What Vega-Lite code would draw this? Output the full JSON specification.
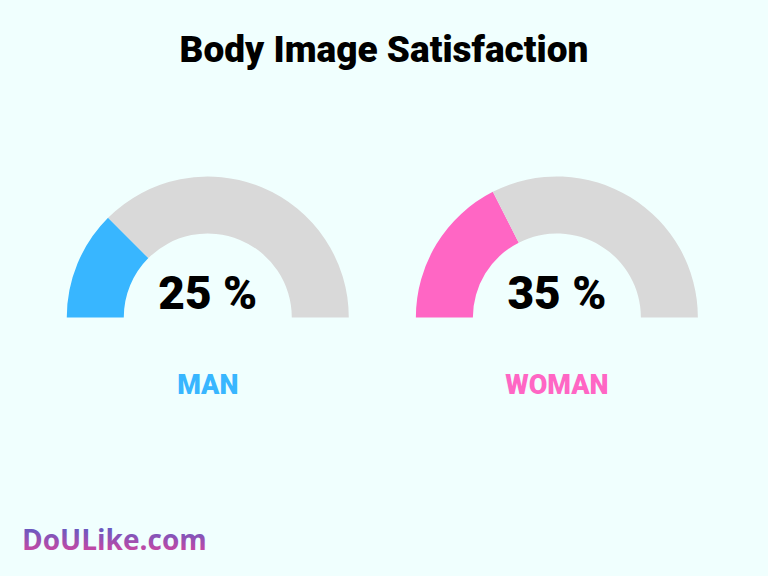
{
  "$schema": "https://vega.github.io/schema/vega-lite/v6.json",
  "width": 768,
  "height": 576,
  "autosize": {"type": "fit", "contains": "padding"},
  "padding": {"top": 32, "left": 0, "right": 0, "bottom": 0},
  "background": "#F0FFFE",
  "title": {
    "text": "Body Image Satisfaction",
    "anchor": "middle",
    "font": "Roboto",
    "fontWeight": 900,
    "fontSize": 37,
    "color": "#000000",
    "offset": -11
  },
  "datasets": {
    "arcs": [
      {"gauge": "MAN", "part": "MAN", "start": 0, "end": 25},
      {"gauge": "MAN", "part": "rest", "start": 25, "end": 100},
      {"gauge": "WOMAN", "part": "WOMAN", "start": 0, "end": 35},
      {"gauge": "WOMAN", "part": "rest", "start": 35, "end": 100}
    ],
    "labels": [
      {"gauge": "MAN", "pct": "25 %"},
      {"gauge": "WOMAN", "pct": "35 %"}
    ]
  },
  "encoding": {
    "x": {
      "field": "gauge",
      "type": "nominal",
      "scale": {"type": "point", "domain": ["MAN", "WOMAN"], "padding": 0.6, "align": 0.496},
      "axis": null
    }
  },
  "layer": [
    {
      "data": {"name": "arcs"},
      "mark": {"type": "arc", "outerRadius": 141, "innerRadius": 84, "stroke": null},
      "encoding": {
        "theta": {"field": "start", "type": "quantitative", "scale": {"domain": [0, 100], "range": [-1.5707963, 1.5707963]}},
        "theta2": {"field": "end"},
        "color": {
          "field": "part",
          "type": "nominal",
          "scale": {"domain": ["MAN", "WOMAN", "rest"], "range": ["#38B6FF", "#FF66C4", "#D9D9D9"]},
          "legend": null
        }
      }
    },
    {
      "data": {"name": "labels"},
      "mark": {
        "type": "text",
        "font": "Roboto",
        "fontWeight": 900,
        "fontSize": 46,
        "baseline": "alphabetic",
        "align": "center",
        "dy": -9,
        "color": "#000000"
      },
      "encoding": {"text": {"field": "pct"}}
    },
    {
      "data": {"name": "labels"},
      "mark": {
        "type": "text",
        "font": "Roboto",
        "fontWeight": 900,
        "fontSize": 27,
        "baseline": "alphabetic",
        "align": "center",
        "dy": 76
      },
      "encoding": {
        "text": {"field": "gauge"},
        "color": {"field": "gauge", "type": "nominal", "scale": {"domain": ["MAN", "WOMAN"], "range": ["#38B6FF", "#FF66C4"]}, "legend": null}
      }
    },
    {
      "data": {"values": [{"brand": "DoULike.com"}]},
      "mark": {
        "type": "text",
        "font": "Open Sans",
        "fontWeight": "bold",
        "fontSize": 28,
        "align": "left",
        "baseline": "alphabetic",
        "y": {"expr": "height"},
        "dy": -26,
        "color": {
          "gradient": "linear",
          "x1": 0, "y1": 0, "x2": 0, "y2": 1,
          "stops": [{"offset": 0, "color": "#4460CC"}, {"offset": 1, "color": "#E6429A"}]
        }
      },
      "encoding": {"text": {"field": "brand"}, "x": {"value": 22}}
    }
  ],
  "config": {
    "view": {"stroke": null}
  }
}
